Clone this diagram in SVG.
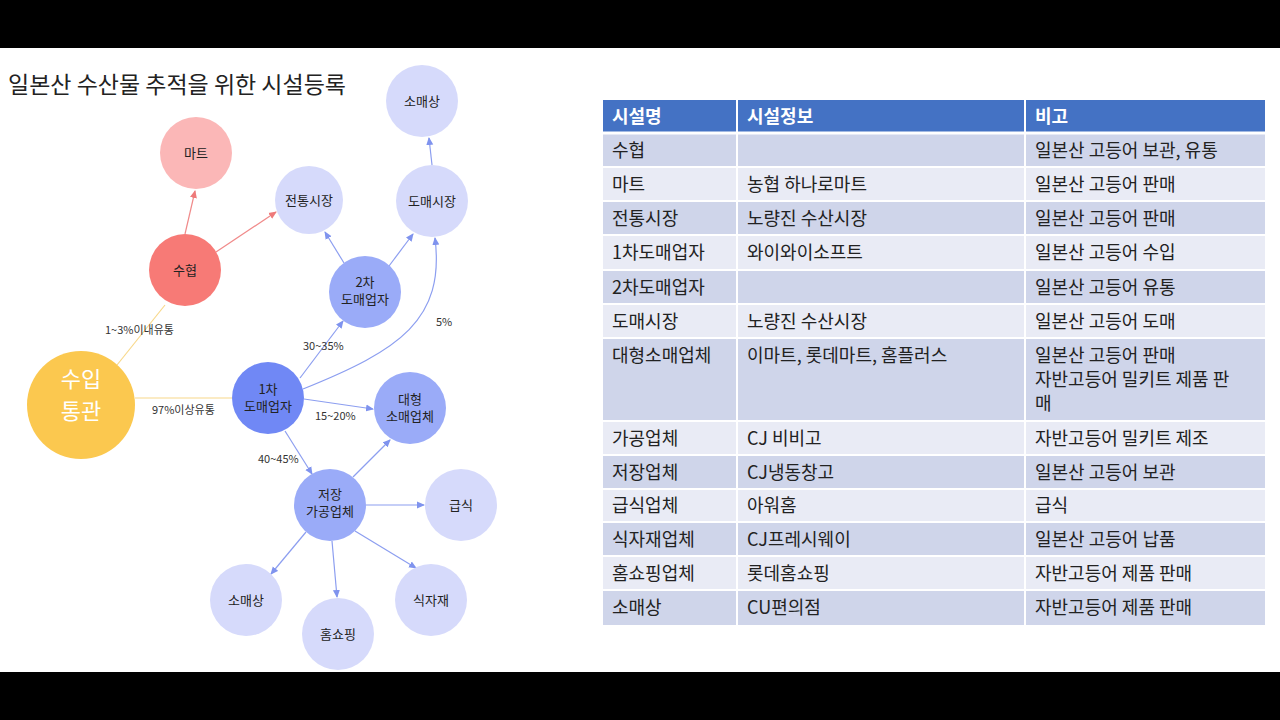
<svg xmlns="http://www.w3.org/2000/svg" width="1280" height="720" viewBox="0 0 1280 720">
<style>
text{font-family:"Noto Sans CJK KR","Noto Sans",sans-serif;fill:#222}
.n text{font-size:13px;text-anchor:middle}
.lbl{font-size:11px;fill:#333}
.t{font-size:18px}
.th{font-size:18px;font-weight:bold;fill:#fff}
.b{stroke:#8c9ef0;stroke-width:1.2;fill:none;marker-end:url(#ab)}
.r{stroke:#f08a8a;stroke-width:1.2;fill:none;marker-end:url(#ar)}
.y{stroke:#f8d88a;stroke-width:1.2;fill:none}
.light{fill:#d6dafb}
.mid{fill:#9aabf8}
</style>
<defs>
<marker id="ab" markerWidth="8" markerHeight="8" refX="7" refY="4" orient="auto" markerUnits="userSpaceOnUse"><path d="M0,0.5 L8,4 L0,7.5 z" fill="#7f93ee"/></marker>
<marker id="ar" markerWidth="8" markerHeight="8" refX="7" refY="4" orient="auto" markerUnits="userSpaceOnUse"><path d="M0,0.5 L8,4 L0,7.5 z" fill="#ee7a7a"/></marker>
</defs>
<rect width="1280" height="720" fill="#fff"/>
<rect width="1280" height="48" fill="#000"/>
<rect y="672" width="1280" height="48" fill="#000"/>
<text x="8" y="93" style="font-size:23px">일본산 수산물 추적을 위한 시설등록</text>
<g id="connectors">
<path class="y" d="M117,365 L165,305"/>
<path class="y" d="M135,398 L232,398"/>
<path class="r" d="M185,234 L195,191"/>
<path class="r" d="M216,252 L276,212"/>
<path class="b" d="M344,263 L325,232"/>
<path class="b" d="M389,266 L413,234"/>
<path class="b" d="M432,165 L429,138"/>
<path class="b" d="M300,378 L343,321"/>
<path class="b" d="M303,389 C400,350 445,320 435,238"/>
<path class="b" d="M304,399 L373,409"/>
<path class="b" d="M285,431 L312,474"/>
<path class="b" d="M353,477 L390,440"/>
<path class="b" d="M366,505 L424,505"/>
<path class="b" d="M306,532 L271,574"/>
<path class="b" d="M332,541 L337,597"/>
<path class="b" d="M355,531 L416,568"/>
<text class="lbl" x="105" y="334">1~3%이내유통</text>
<text class="lbl" x="152" y="414">97%이상유통</text>
<text class="lbl" x="303" y="350">30~35%</text>
<text class="lbl" x="436" y="326">5%</text>
<text class="lbl" x="315" y="420">15~20%</text>
<text class="lbl" x="258" y="463">40~45%</text>
</g>
<g class="n">
<g id="n-somae-top"><circle cx="422" cy="101" r="36" class="light"/><text x="422" y="106">소매상</text></g>
<g id="n-mart"><circle cx="196" cy="153" r="36" fill="#fbb7b7"/><text x="196" y="158">마트</text></g>
<g id="n-market"><circle cx="309" cy="200" r="34" class="light"/><text x="309" y="205">전통시장</text></g>
<g id="n-wholesale"><circle cx="432" cy="201" r="36" class="light"/><text x="432" y="206">도매시장</text></g>
<g id="n-suhyup"><circle cx="185" cy="270" r="36" fill="#f77a76"/><text x="185" y="275">수협</text></g>
<g id="n-2nd"><circle cx="365" cy="292" r="36" class="mid"/><text x="365" y="287">2차</text><text x="365" y="304">도매업자</text></g>
<g id="n-import"><circle cx="81" cy="405" r="54" fill="#fbc84f"/><text x="81" y="387" style="font-size:22px;fill:#fff">수입</text><text x="81" y="419" style="font-size:22px;fill:#fff">통관</text></g>
<g id="n-1st"><circle cx="268" cy="398" r="36" fill="#7088f5"/><text x="268" y="394">1차</text><text x="268" y="411">도매업자</text></g>
<g id="n-retail"><circle cx="410" cy="408" r="36" class="mid"/><text x="410" y="404">대형</text><text x="410" y="421">소매업체</text></g>
<g id="n-process"><circle cx="330" cy="505" r="36" class="mid"/><text x="330" y="499">저장</text><text x="330" y="516">가공업체</text></g>
<g id="n-meal"><circle cx="461" cy="505" r="36" class="light"/><text x="461" y="510">급식</text></g>
<g id="n-somae-bot"><circle cx="246" cy="600" r="36" class="light"/><text x="246" y="605">소매상</text></g>
<g id="n-home"><circle cx="338" cy="634" r="36" class="light"/><text x="338" y="639">홈쇼핑</text></g>
<g id="n-food"><circle cx="431" cy="600" r="36" class="light"/><text x="431" y="605">식자재</text></g>
</g>
<g id="table">
<rect x="603" y="100" width="662" height="33" fill="#4472c4"/>
<rect x="603" y="133" width="662" height="34" fill="#cfd5ea"/>
<rect x="603" y="167" width="662" height="34" fill="#e9ebf5"/>
<rect x="603" y="201" width="662" height="34" fill="#cfd5ea"/>
<rect x="603" y="235" width="662" height="35" fill="#e9ebf5"/>
<rect x="603" y="270" width="662" height="34" fill="#cfd5ea"/>
<rect x="603" y="304" width="662" height="34" fill="#e9ebf5"/>
<rect x="603" y="338" width="662" height="83" fill="#cfd5ea"/>
<rect x="603" y="421" width="662" height="34" fill="#e9ebf5"/>
<rect x="603" y="455" width="662" height="34" fill="#cfd5ea"/>
<rect x="603" y="489" width="662" height="33" fill="#e9ebf5"/>
<rect x="603" y="522" width="662" height="34" fill="#cfd5ea"/>
<rect x="603" y="556" width="662" height="34" fill="#e9ebf5"/>
<rect x="603" y="590" width="662" height="35" fill="#cfd5ea"/>
<g stroke="#fff" stroke-width="2">
<line x1="737" y1="100" x2="737" y2="625"/><line x1="1025" y1="100" x2="1025" y2="625"/>
<line x1="603" y1="133" x2="1265" y2="133" stroke-width="3"/><line x1="603" y1="167" x2="1265" y2="167"/><line x1="603" y1="201" x2="1265" y2="201"/><line x1="603" y1="235" x2="1265" y2="235"/><line x1="603" y1="270" x2="1265" y2="270"/><line x1="603" y1="304" x2="1265" y2="304"/><line x1="603" y1="338" x2="1265" y2="338"/><line x1="603" y1="421" x2="1265" y2="421"/><line x1="603" y1="455" x2="1265" y2="455"/><line x1="603" y1="489" x2="1265" y2="489"/><line x1="603" y1="522" x2="1265" y2="522"/><line x1="603" y1="556" x2="1265" y2="556"/><line x1="603" y1="590" x2="1265" y2="590"/>
</g>
<text class="th" x="612" y="123">시설명</text><text class="th" x="747" y="123">시설정보</text><text class="th" x="1035" y="123">비고</text>
<text class="t" x="612" y="157">수협</text><text class="t" x="1035" y="157">일본산 고등어 보관, 유통</text>
<text class="t" x="612" y="191">마트</text><text class="t" x="747" y="191">농협 하나로마트</text><text class="t" x="1035" y="191">일본산 고등어 판매</text>
<text class="t" x="612" y="225">전통시장</text><text class="t" x="747" y="225">노량진 수산시장</text><text class="t" x="1035" y="225">일본산 고등어 판매</text>
<text class="t" x="612" y="259">1차도매업자</text><text class="t" x="747" y="259">와이와이소프트</text><text class="t" x="1035" y="259">일본산 고등어 수입</text>
<text class="t" x="612" y="294">2차도매업자</text><text class="t" x="1035" y="294">일본산 고등어 유통</text>
<text class="t" x="612" y="328">도매시장</text><text class="t" x="747" y="328">노량진 수산시장</text><text class="t" x="1035" y="328">일본산 고등어 도매</text>
<text class="t" x="612" y="362">대형소매업체</text><text class="t" x="747" y="362">이마트, 롯데마트, 홈플러스</text><text class="t" x="1035" y="362">일본산 고등어 판매</text><text class="t" x="1035" y="386">자반고등어 밀키트 제품 판</text><text class="t" x="1035" y="410">매</text>
<text class="t" x="612" y="445">가공업체</text><text class="t" x="747" y="445">CJ 비비고</text><text class="t" x="1035" y="445">자반고등어 밀키트 제조</text>
<text class="t" x="612" y="479">저장업체</text><text class="t" x="747" y="479">CJ냉동창고</text><text class="t" x="1035" y="479">일본산 고등어 보관</text>
<text class="t" x="612" y="512">급식업체</text><text class="t" x="747" y="512">아워홈</text><text class="t" x="1035" y="512">급식</text>
<text class="t" x="612" y="546">식자재업체</text><text class="t" x="747" y="546">CJ프레시웨이</text><text class="t" x="1035" y="546">일본산 고등어 납품</text>
<text class="t" x="612" y="580">홈쇼핑업체</text><text class="t" x="747" y="580">롯데홈쇼핑</text><text class="t" x="1035" y="580">자반고등어 제품 판매</text>
<text class="t" x="612" y="614">소매상</text><text class="t" x="747" y="614">CU편의점</text><text class="t" x="1035" y="614">자반고등어 제품 판매</text>
</g>
</svg>
